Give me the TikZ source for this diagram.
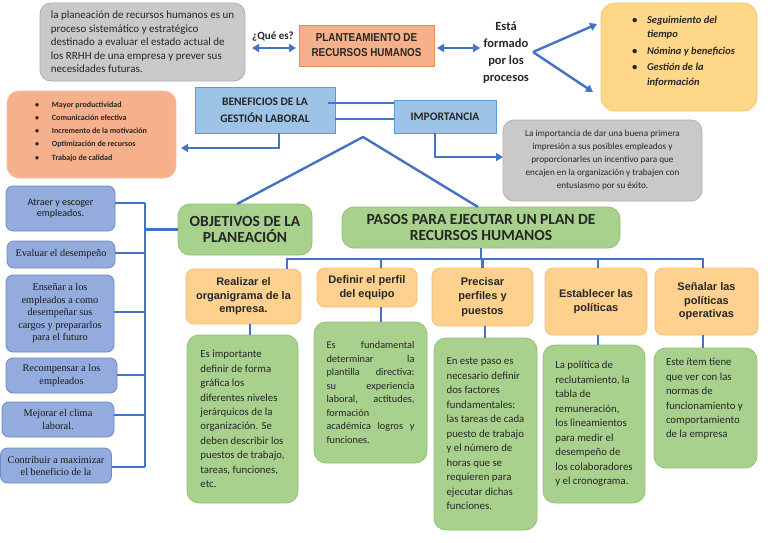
\documentclass[tikz,border=0pt]{standalone}
\usepackage{fontspec}
\setmainfont{Carlito}
\newfontfamily\arialb{Liberation Sans}
\newfontfamily\arialn{Liberation Sans}[FakeStretch=0.86]
\newfontfamily\timesf{Liberation Serif}
\usetikzlibrary{arrows.meta,calc}
\definecolor{cline}{HTML}{4472C4}
\definecolor{gfill}{HTML}{C9C9C9}
\definecolor{gdraw}{HTML}{B0B0B0}
\definecolor{sfill}{HTML}{F6B08C}
\definecolor{sdraw}{HTML}{E08A5C}
\definecolor{yfill}{HTML}{FFD789}
\definecolor{ydraw}{HTML}{F7C76B}
\definecolor{ofill}{HTML}{FED18E}
\definecolor{odraw}{HTML}{F5BE70}
\definecolor{grfill}{HTML}{A9D18E}
\definecolor{grdraw}{HTML}{8FC072}
\definecolor{bfill}{HTML}{9DC3E6}
\definecolor{bdraw}{HTML}{5B9BD5}
\definecolor{pfill}{HTML}{93ABDD}
\definecolor{pdraw}{HTML}{6E8BC8}
\definecolor{txt}{HTML}{262626}
\newcommand\fs[2]{\fontsize{#1}{#2}\selectfont}
\newcommand\bul{\makebox[15pt][l]{\textbullet}}
\newcommand\ind{\hspace*{15pt}}
\newcommand\sbul{\makebox[17pt][l]{\textbullet}}
\begin{document}
\begin{tikzpicture}[x=1pt,y=-1pt,
  conn/.style={draw=cline,line width=2.4pt},
  arr/.style={conn,-{Triangle[length=7pt,width=8pt]}},
  dbl/.style={conn,{Triangle[length=7pt,width=8pt]}-{Triangle[length=7pt,width=8pt]}},
  base/.style={inner sep=0pt,outer sep=0pt,line width=0.8pt,text=txt},
  graybox/.style={base,rounded corners=11pt,fill=gfill,draw=gdraw},
  planbox/.style={base,fill=sfill,draw=sdraw},
  salbox/.style={base,rounded corners=12pt,fill=sfill,draw=sfill!80!white},
  yelbox/.style={base,rounded corners=14pt,fill=yfill,draw=ydraw},
  stepbox/.style={base,rounded corners=8pt,fill=ofill,draw=odraw},
  greenbox/.style={base,rounded corners=12pt,fill=grfill,draw=grdraw},
  bluebox/.style={base,fill=bfill,draw=bdraw},
  peribox/.style={base,rounded corners=7pt,fill=pfill,draw=pdraw,align=center,text=black!90}
]
\fill[white] (0,0) rectangle (768,543);
\useasboundingbox (0,0) rectangle (768,543);

% top row
\node[graybox,minimum width=205pt,minimum height=78pt,align=left,font=\fs{11}{13.5}] (que) at (142.5,42)
 {la planeación de recursos humanos es un\\proceso sistemático y estratégico\\destinado a evaluar el estado actual de\\los RRHH de una empresa y prever sus\\necesidades futuras.};
\node[base,font=\bfseries\fs{11}{13}] (qlab) at (273,37) {¿Qué es?};
\node[planbox,minimum width=135pt,minimum height=41pt,align=center,font=\arialn\bfseries\fs{11.5}{15}] (plan) at (366.5,45.5)
 {PLANTEAMIENTO DE\\RECURSOS HUMANOS};
\draw[dbl] ([xshift=7pt,yshift=-6pt]que.east) -- ($(que.east -| plan.west)+(-3,6)$);
\node[base,align=center,font=\bfseries\fs{12.5}{17}] (esta) at (506,53) {Está\\formado\\por los\\procesos};
\draw[dbl] ([xshift=3pt,yshift=-2.5pt]plan.east) -- ($(plan.east -| esta.west)+(-3,2.5)$);
\node[yelbox,minimum width=156pt,minimum height=108pt] (yel) at (679,57) {};
\node[base,anchor=west,align=left,font=\bfseries\itshape\fs{10.5}{14.5}] (yelt) at (632,51)
 {\bul Seguimiento del\\\ind tiempo\\[2pt]\bul Nómina y beneficios\\[2pt]\bul Gestión de la\\\ind información};
\coordinate (v) at (533,52);
\draw[arr] (v) -- ($(yel.west)+(-4,-33)$);
\draw[arr] (v) -- ($(yel.west)+(-8,35)$);

% second row
\node[salbox,minimum width=169pt,minimum height=87pt] (sal) at (91.5,134.5) {};
\node[base,anchor=west,align=left,font=\bfseries\fs{8}{13.3}] (salt) at (35,131.5)
 {\sbul Mayor productividad\\\sbul Comunicación efectiva\\\sbul Incremento de la motivación\\\sbul Optimización de recursos\\\sbul Trabajo de calidad};
\node[bluebox,minimum width=140pt,minimum height=46pt,align=center,font=\bfseries\fs{11.5}{17}] (bene) at (265,110)
 {BENEFICIOS DE LA\\GESTIÓN LABORAL};
\node[bluebox,minimum width=102pt,minimum height=33pt,font=\bfseries\fs{11.5}{14}] (impo) at (445,116.5) {IMPORTANCIA};
\node[graybox,minimum width=199pt,minimum height=81pt,align=center,font=\fs{9.2}{13}] (imp) at (602.5,160.5)
 {La importancia de dar una buena primera\\impresión a sus posibles empleados y\\proporcionarles un incentivo para que\\encajen en la organización y trabajen con\\entusiasmo por su éxito.};
\draw[conn] ([xshift=-7pt,yshift=7pt]bene.east) -- ([yshift=7pt]bene.east -| impo.west);
\draw[conn] ([yshift=-9pt]bene.east) -- ([yshift=-9pt]bene.east -| impo.west);
\draw[arr] ([xshift=14pt]bene.south) |- ($(sal.east)+(5,13.5)$);
\draw[arr] ([xshift=-10pt]impo.south) |- ($(imp.west)+(0,-3.5)$);

% headings
\node[greenbox,minimum width=134pt,minimum height=51pt,align=center,font=\bfseries\fs{15.5}{16}] (obj) at (245,229.5)
 {OBJETIVOS DE LA\\PLANEACIÓN};
\node[greenbox,minimum width=278pt,minimum height=41pt,align=center,font=\bfseries\fs{15.5}{16}] (pasos) at (481,227.5)
 {PASOS PARA EJECUTAR UN PLAN DE\\RECURSOS HUMANOS};
\coordinate (apex) at (363,137);
\draw[conn] ([xshift=-8pt]obj.north) -- (apex) -- ([xshift=-3pt]pasos.north);

% step boxes
\node[stepbox,minimum width=115pt,minimum height=55pt,align=center,font=\arialb\bfseries\fs{11}{13.5}] (s1) at (243.5,296.5)
 {Realizar el\\organigrama de la\\empresa.};
\node[stepbox,minimum width=100pt,minimum height=39pt,align=center,font=\arialb\bfseries\fs{11}{14}] (s2) at (367,287.5)
 {Definir el perfil\\del equipo};
\node[stepbox,minimum width=101pt,minimum height=58pt,align=center,font=\arialb\bfseries\fs{11}{14.5}] (s3) at (482.5,297)
 {Precisar\\perfiles y\\puestos};
\node[stepbox,minimum width=102pt,minimum height=67pt,align=center,font=\arialb\bfseries\fs{11}{14}] (s4) at (596,301.5)
 {Establecer las\\políticas};
\node[stepbox,minimum width=103pt,minimum height=67pt,align=center,font=\arialb\bfseries\fs{11}{13.5}] (s5) at (706.5,301.5)
 {Señalar las\\políticas\\operativas};
\coordinate (bL) at (287,259);
\coordinate (bR) at (703,259);
\draw[conn] (pasos.south) -- (pasos.south |- bL);
\draw[conn] ([xshift=43.5pt]s1.north) -- (bL) -- (bR) -- ([xshift=-3.5pt]s5.north);
\draw[conn] ([xshift=14pt]s2.north) -- ([xshift=14pt]s2.north |- bL);
\draw[conn] (s3.north) -- (s3.north |- bL);
\draw[conn] ([xshift=2pt]s4.north) -- ([xshift=2pt]s4.north |- bL);

% green text boxes
\node[greenbox,minimum width=111pt,minimum height=168pt,align=left,font=\fs{10.8}{14.4}] (g1) at (242.5,419)
 {Es importante\\definir de forma\\gráfica los\\diferentes niveles\\jerárquicos de la\\organización. Se\\deben describir los\\puestos de trabajo,\\tareas, funciones,\\etc.};
\node[greenbox,minimum width=113pt,minimum height=141pt,align=left,font=\fs{10.3}{13.5}] (g2) at (370.5,392.5)
 {\makebox[88pt][s]{Es fundamental}\\\makebox[88pt][s]{determinar la}\\\makebox[88pt][s]{plantilla directiva:}\\\makebox[88pt][s]{su experiencia}\\\makebox[88pt][s]{laboral, actitudes,}\\formación\\\makebox[88pt][s]{académica logros y}\\funciones.};
\node[greenbox,minimum width=103pt,minimum height=192pt,align=left,font=\fs{10.8}{14.5}] (g3) at (485.5,434)
 {En este paso es\\necesario definir\\dos factores\\fundamentales:\\las tareas de cada\\puesto de trabajo\\y el número de\\horas que se\\requieren para\\ejecutar dichas\\funciones.};
\node[greenbox,minimum width=102pt,minimum height=158pt,align=left,font=\fs{10.8}{14.5}] (g4) at (594,424)
 {La política de\\reclutamiento, la\\tabla de\\remuneración,\\los lineamientos\\para medir el\\desempeño de\\los colaboradores\\y el cronograma.};
\node[greenbox,minimum width=103pt,minimum height=120pt] (g5) at (705.5,408) {};
\node[base,anchor=west,align=left,font=\fs{10.8}{14.4}] (g5t) at (666,399)
 {Este ítem tiene\\que ver con las\\normas de\\funcionamiento y\\comportamiento\\de la empresa};
\draw[conn] ([xshift=6.5pt]s1.south) -- ([xshift=6.5pt]s1.south |- g1.north);
\draw[conn] ([xshift=14pt]s2.south) -- ([xshift=14pt]s2.south |- g2.north);
\draw[conn] ([xshift=2.5pt]s3.south) -- ([xshift=2.5pt]s3.south |- g3.north);
\draw[conn] ([xshift=2pt]s4.south) -- ([xshift=2pt]s4.south |- g4.north);
\draw[conn] ([xshift=-3.5pt]s5.south) -- ([xshift=-3.5pt]s5.south |- g5.north);

% left objective boxes
\node[peribox,minimum width=109pt,minimum height=45pt,font=\fs{10}{11.5}] (atr) at (60.5,208.5) {Atraer y escoger\\empleados.};
\node[peribox,minimum width=108pt,minimum height=27pt,font=\timesf\fs{10.3}{12}] (eva) at (61,254.5) {Evaluar el desempeño};
\node[peribox,minimum width=108pt,minimum height=77pt,font=\timesf\fs{10.3}{12.5}] (ens) at (60,313.5)
 {Enseñar a los\\empleados a como\\desempeñar sus\\cargos y prepararlos\\para el futuro};
\node[peribox,minimum width=111pt,minimum height=35pt,font=\timesf\fs{10.3}{12.5}] (rec) at (61.5,375.5) {Recompensar a los\\empleados};
\node[peribox,minimum width=112pt,minimum height=35pt,font=\timesf\fs{10.3}{12.5}] (mej) at (58,419.5) {Mejorar el clima\\laboral.};
\node[peribox,minimum width=111pt,minimum height=35pt,font=\timesf\fs{10.3}{12}] (con) at (56,465.5) {Contribuir a maximizar\\el beneficio de la};
\coordinate (lt) at (145,203);
\coordinate (lb) at (145,467);
\draw[conn] (lt) -- (lb);
\draw[conn] ([yshift=5.5pt]atr.east) -- ([yshift=5.5pt]atr.east -| lt);
\draw[conn] ([yshift=1.5pt]eva.east) -- ([yshift=1.5pt]eva.east -| lt);
\draw[conn] ([yshift=1.5pt]ens.east) -- ([yshift=1.5pt]ens.east -| lt);
\draw[conn] ([yshift=0.5pt]rec.east) -- ([yshift=0.5pt]rec.east -| lt);
\draw[conn] ([yshift=4.5pt]mej.east) -- ([yshift=4.5pt]mej.east -| lt);
\draw[conn] ([yshift=-1.5pt]con.east) -- ([yshift=-1.5pt]con.east -| lt);
\draw[conn] (lt |- obj.west) -- (obj.west);
\end{tikzpicture}
\end{document}
